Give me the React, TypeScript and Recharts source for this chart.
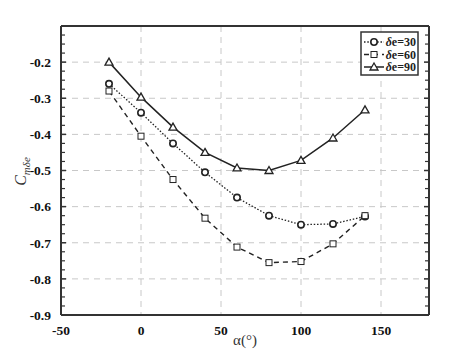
import React from "react";
import { LineChart, Line, XAxis, YAxis, CartesianGrid, Legend } from "recharts";

// angle of attack, degrees
const alpha = [-20, 0, 20, 40, 60, 80, 100, 120, 140];
const de30 = [-0.26, -0.34, -0.425, -0.505, -0.575, -0.625, -0.65, -0.648, -0.627];
const de60 = [-0.28, -0.405, -0.525, -0.632, -0.712, -0.755, -0.752, -0.703, -0.625];
const de90 = [-0.2, -0.297, -0.38, -0.45, -0.493, -0.5, -0.472, -0.41, -0.332];

const xTicks = [-50, 0, 50, 100, 150];
const yTicks = [-0.9, -0.8, -0.7, -0.6, -0.5, -0.4, -0.3, -0.2];
const xMinor = [-40, -30, -20, -10, 10, 20, 30, 40, 60, 70, 80, 90, 110, 120, 130, 140, 160, 170];
const yMinor = [
  -0.875, -0.85, -0.825, -0.775, -0.75, -0.725, -0.675, -0.65, -0.625, -0.575, -0.55, -0.525,
  -0.475, -0.45, -0.425, -0.375, -0.35, -0.325, -0.275, -0.25, -0.225, -0.175, -0.15, -0.125,
];

const data = alpha.map((a, i) => ({ a, d30: de30[i], d60: de60[i], d90: de90[i] }));

const X_DOMAIN: [number, number] = [-50, 180];
const Y_DOMAIN: [number, number] = [-0.9, -0.1];
const FONT = "'Liberation Serif', 'Times New Roman', serif";

const noLabel = () => <g />;

const Circle = (p: any) => (
  <circle key={p.key} cx={p.cx} cy={p.cy} r={3.2} fill="#fff" stroke="#222" strokeWidth={1.6} />
);
const Square = (p: any) => (
  <rect key={p.key} x={p.cx - 3} y={p.cy - 3} width={6} height={6} fill="#fff" stroke="#222" strokeWidth={1} />
);
const Tri = (p: any) => (
  <path
    key={p.key}
    d={`M${p.cx},${p.cy - 4}L${p.cx + 4},${p.cy + 3}L${p.cx - 4},${p.cy + 3}Z`}
    fill="#fff"
    stroke="#222"
    strokeWidth={1.3}
  />
);

const series = [
  { key: "d30", name: "δe=30", dash: "1.5 1.8", width: 1.3, Dot: Circle },
  { key: "d60", name: "δe=60", dash: "5 4", width: 1.4, Dot: Square },
  { key: "d90", name: "δe=90", dash: undefined, width: 1.5, Dot: Tri },
];

const renderLegend = () => (
  <svg width={60} height={46} style={{ display: "block" }}>
    <rect x={1} y={1} width={57} height={43} fill="#fff" stroke="#333" strokeWidth={1.5} />
    {series.map((s, i) => {
      const y = 11 + i * 12.5;
      const D = s.Dot;
      return (
        <g key={s.key}>
          <line x1={4} x2={24} y1={y} y2={y} stroke="#222" strokeWidth={s.width} strokeDasharray={s.dash} />
          <D cx={14} cy={y} />
          <text
            x={56}
            y={y + 4}
            textAnchor="end"
            fontFamily={FONT}
            fontWeight="bold"
            fontSize={12}
            fill="#222"
          >
            <tspan fontStyle="italic">δ</tspan>e=
            {s.name.split("=")[1]}
          </text>
        </g>
      );
    })}
  </svg>
);

const mirrorX = { type: "number" as const, domain: X_DOMAIN, mirror: true, allowDataOverflow: true, height: 1, tick: noLabel, interval: 0 };
const mirrorY = { type: "number" as const, domain: Y_DOMAIN, mirror: true, allowDataOverflow: true, width: 1, tick: noLabel, interval: 0 };
const majorLine = { stroke: "#333", strokeWidth: 1.5 };
const minorLine = { stroke: "#333", strokeWidth: 1.2 };
const frame = { stroke: "#333", strokeWidth: 2 };

export default function App() {
  const tickStyle = { fontFamily: FONT, fontWeight: "bold", fontSize: 13.5, fill: "#111" };
  return (
    <div style={{ position: "absolute", left: 0, top: 0, background: "#fff" }}>
      <LineChart width={474} height={355} data={data} margin={{ top: 26, right: 45, bottom: 10, left: 11 }}>
        <CartesianGrid xAxisId="x" yAxisId="y" stroke="#c8c8c8" strokeDasharray="6 5" strokeWidth={1} />
        <XAxis
          xAxisId="x"
          dataKey="a"
          type="number"
          domain={X_DOMAIN}
          ticks={xTicks}
          interval={0}
          allowDataOverflow
          height={30}
          tickLine={false}
          axisLine={frame}
          tick={tickStyle}
          tickMargin={4}
          label={{ value: "α(°)", position: "insideBottom", offset: 0, style: { fontFamily: FONT, fontSize: 15, fill: "#333" } }}
        />
        <XAxis xAxisId="xb1" {...mirrorX} ticks={xTicks} axisLine={false} tickSize={5} tickLine={majorLine} />
        <XAxis xAxisId="xb2" {...mirrorX} ticks={xMinor} axisLine={false} tickSize={3} tickLine={minorLine} />
        <XAxis xAxisId="xt1" {...mirrorX} orientation="top" ticks={xTicks} axisLine={frame} tickSize={5} tickLine={majorLine} />
        <XAxis xAxisId="xt2" {...mirrorX} orientation="top" ticks={xMinor} axisLine={false} tickSize={3} tickLine={minorLine} />
        <YAxis
          yAxisId="y"
          type="number"
          domain={Y_DOMAIN}
          ticks={yTicks}
          interval={0}
          allowDataOverflow
          width={50}
          tickLine={false}
          axisLine={frame}
          tick={tickStyle}
          tickMargin={4}
          tickFormatter={(v: number) => v.toFixed(1)}
          label={{
            value: "Cmδe",
            position: "insideLeft",
            content: (props: any) => {
              const vb = props.viewBox;
              const cx = vb.x + 15;
              const cy = vb.y + vb.height / 2 + 1;
              return (
                <text transform={`translate(${cx},${cy}) rotate(-90)`} textAnchor="middle" fontFamily={FONT} fill="#333" fontStyle="italic">
                  <tspan fontSize={16}>C</tspan>
                  <tspan fontSize={11} dy={4}>mδe</tspan>
                </text>
              );
            },
          }}
        />
        <YAxis yAxisId="yl1" {...mirrorY} ticks={yTicks} axisLine={false} tickSize={5} tickLine={majorLine} />
        <YAxis yAxisId="yl2" {...mirrorY} ticks={yMinor} axisLine={false} tickSize={3} tickLine={minorLine} />
        <YAxis yAxisId="yr1" {...mirrorY} orientation="right" ticks={yTicks} axisLine={frame} tickSize={5} tickLine={majorLine} />
        <YAxis yAxisId="yr2" {...mirrorY} orientation="right" ticks={yMinor} axisLine={false} tickSize={3} tickLine={minorLine} />
        <Legend
          layout="vertical"
          align="center"
          verticalAlign="middle"
          content={renderLegend}
          wrapperStyle={{ position: "absolute", top: 31, left: 360, width: 60, height: 46 }}
        />
        {series.map((s) => (
          <Line
            key={s.key}
            xAxisId="x"
            yAxisId="y"
            type="linear"
            dataKey={s.key}
            name={s.name}
            stroke="#222"
            strokeWidth={s.width}
            strokeDasharray={s.dash}
            dot={s.Dot}
            activeDot={false}
            isAnimationActive={false}
          />
        ))}
      </LineChart>
    </div>
  );
}
